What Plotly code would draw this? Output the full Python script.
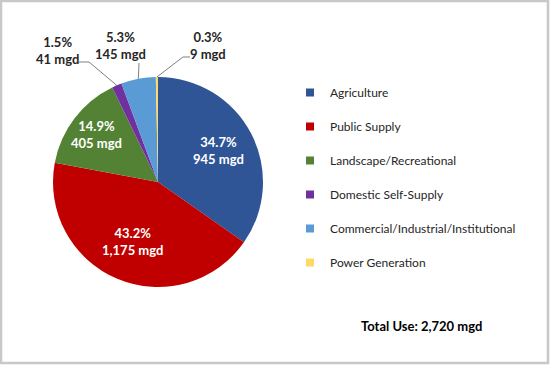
import math
import plotly.graph_objects as go

categories = ["Agriculture", "Public Supply", "Landscape/Recreational",
              "Domestic Self-Supply", "Commercial/Industrial/Institutional", "Power Generation"]
values = [945, 1175, 405, 41, 145, 9]
colors = ["#2F5597", "#C00000", "#548235", "#7030A0", "#5B9BD5", "#FFD966"]
total_label = "Total Use: 2,720 mgd"

W, H = 550, 365
FONT = "Lato"
CX, CY, R = 158, 182, 105  # pie centre/radius in pixels

def px(x):
    return x / W

def py(y):
    return 1 - y / H

fig = go.Figure()

fig.add_trace(go.Pie(
    labels=categories, values=values, sort=False, direction="clockwise", rotation=0,
    marker=dict(colors=colors, line=dict(width=0)),
    textinfo="none",
    showlegend=False, hoverinfo="label+value+percent",
    domain=dict(x=[px(CX - R), px(CX + R)], y=[py(CY + R), py(CY - R)]),
))

# dummy traces for legend spacing
for name, col in zip(categories, colors):
    fig.add_trace(go.Scatter(x=[None], y=[None], mode="markers", name=name,
                             legendgroup=name,
                             marker=dict(symbol="square", size=8, color=col)))

# slice mid-angles computed from data
tot = sum(values)
cum = 0
mids = []
for v in values:
    mids.append((cum + v / 2) / tot * 2 * math.pi)
    cum += v

def lab(i):
    return f"{values[i] / tot * 100:.1f}%<br>{values[i]:,} mgd"

# inside labels (large slices), placed along the slice mid-angle
inside_r = {0: 0.65, 1: 0.62, 2: 0.74}
for i, f in inside_r.items():
    a = mids[i]
    x, y = CX + f * R * math.sin(a), CY - f * R * math.cos(a)
    fig.add_annotation(x=px(x), y=py(y), xref="paper", yref="paper", showarrow=False,
                       xanchor="center", yanchor="middle", text=lab(i),
                       font=dict(family=FONT, size=13, color="white", weight="bold"))

# outside labels with leader lines
label_pos = {3: (57, 50), 4: (120, 45), 5: (208, 45)}
elbow = {3: [(89, 62), (79, 62)], 4: [(139, 63)], 5: [(183, 57), (190, 57)]}
for i, (tx, ty) in label_pos.items():
    a = mids[i]
    ex, ey = CX + R * math.sin(a), CY - R * math.cos(a)
    pts = [(ex, ey)] + elbow[i]
    path = "M " + " L ".join(f"{px(x):.5f},{py(y):.5f}" for x, y in pts)
    fig.add_shape(type="path", path=path, xref="paper", yref="paper",
                  line=dict(color="#7F7F7F", width=1))
    fig.add_annotation(x=px(tx), y=py(ty), xref="paper", yref="paper", showarrow=False,
                       xanchor="center", yanchor="middle", text=lab(i),
                       font=dict(family=FONT, size=13, color="#262626", weight="bold"))

fig.add_annotation(x=px(421), y=py(326), xref="paper", yref="paper", showarrow=False,
                   xanchor="center", yanchor="middle", text=total_label,
                   font=dict(family=FONT, size=13, color="#000000", weight="bold"))

# border
fig.add_shape(type="rect", xref="paper", yref="paper", x0=px(1), x1=px(548), y0=py(363), y1=py(1),
              line=dict(color="#C8C8C8", width=2.5), layer="above")

fig.update_layout(
    width=W, height=H, margin=dict(l=0, r=0, t=0, b=0, autoexpand=False),
    paper_bgcolor="white", plot_bgcolor="white",
    xaxis=dict(visible=False), yaxis=dict(visible=False),
    legend=dict(x=px(290), y=py(78), xanchor="left", yanchor="top",
                font=dict(family=FONT, size=12, color="#262626"),
                tracegroupgap=15, itemwidth=30),
    font=dict(family=FONT),
)

fig.write_html("out.html", config={"displayModeBar": False},
               post_script="document.body.style.margin='0';")
